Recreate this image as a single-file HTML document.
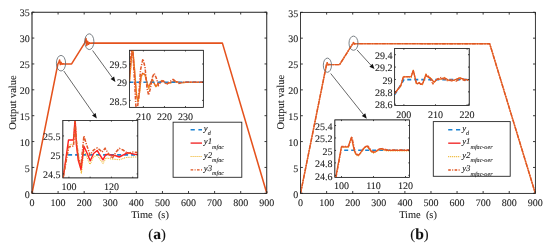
<!DOCTYPE html>
<html><head><meta charset="utf-8"><title>Output value</title>
<style>html,body{margin:0;padding:0;background:#fff;width:550px;height:247px;overflow:hidden}svg{display:block}svg text{stroke:#262626;stroke-width:0.1px;text-rendering:geometricPrecision}</style>
</head><body>
<svg width="550" height="247" viewBox="0 0 550 247" font-family="&apos;Liberation Serif&apos;, &apos;Times New Roman&apos;, serif" fill="#262626">
<rect width="550" height="247" fill="#fff"/>
<defs><clipPath id="k1"><rect x="129.4" y="50.25" width="73.9" height="57.05"/></clipPath></defs>
<rect x="32" y="12.2" width="234.8" height="181.1" fill="#fff" stroke="#262626" stroke-width="0.65"/>
<path d="M32 193.3 L57.9 63.9 L58.8 62.4 L59.6 60 L60.3 64.6 L61 62.3 L62 64.3 L63 63.7 L64 64 L71.6 63.9 L84.6 43.1 L85.4 41 L86 38.5 L86.8 45.4 L87.6 41.3 L88.5 44.2 L89.5 42.7 L90.5 43.3 L92 43 L222.4 43.1 L266.8 193.3" fill="none" stroke="#e5521d" stroke-width="1.55" stroke-linejoin="round"/>
<path d="M32 193.3v-2.3M32 12.2v2.3M58.09 193.3v-2.3M58.09 12.2v2.3M84.18 193.3v-2.3M84.18 12.2v2.3M110.27 193.3v-2.3M110.27 12.2v2.3M136.36 193.3v-2.3M136.36 12.2v2.3M162.44 193.3v-2.3M162.44 12.2v2.3M188.53 193.3v-2.3M188.53 12.2v2.3M214.62 193.3v-2.3M214.62 12.2v2.3M240.71 193.3v-2.3M240.71 12.2v2.3M266.8 193.3v-2.3M266.8 12.2v2.3M32 193.3h2.3M266.8 193.3h-2.3M32 167.43h2.3M266.8 167.43h-2.3M32 141.56h2.3M266.8 141.56h-2.3M32 115.69h2.3M266.8 115.69h-2.3M32 89.81h2.3M266.8 89.81h-2.3M32 63.94h2.3M266.8 63.94h-2.3M32 38.07h2.3M266.8 38.07h-2.3M32 12.2h2.3M266.8 12.2h-2.3" stroke="#262626" stroke-width="0.9" fill="none"/>
<rect x="32" y="12.2" width="234.8" height="181.1" fill="none" stroke="#262626" stroke-width="0.65"/>
<text x="32" y="205.8" text-anchor="middle" font-size="10">0</text>
<text x="58.09" y="205.8" text-anchor="middle" font-size="10">100</text>
<text x="84.18" y="205.8" text-anchor="middle" font-size="10">200</text>
<text x="110.27" y="205.8" text-anchor="middle" font-size="10">300</text>
<text x="136.36" y="205.8" text-anchor="middle" font-size="10">400</text>
<text x="162.44" y="205.8" text-anchor="middle" font-size="10">500</text>
<text x="188.53" y="205.8" text-anchor="middle" font-size="10">600</text>
<text x="214.62" y="205.8" text-anchor="middle" font-size="10">700</text>
<text x="240.71" y="205.8" text-anchor="middle" font-size="10">800</text>
<text x="266.8" y="205.8" text-anchor="middle" font-size="10">900</text>
<text x="29.7" y="197.5" text-anchor="end" font-size="10">0</text>
<text x="29.7" y="171.63" text-anchor="end" font-size="10">5</text>
<text x="29.7" y="145.76" text-anchor="end" font-size="10">10</text>
<text x="29.7" y="119.89" text-anchor="end" font-size="10">15</text>
<text x="29.7" y="94.01" text-anchor="end" font-size="10">20</text>
<text x="29.7" y="68.14" text-anchor="end" font-size="10">25</text>
<text x="29.7" y="42.27" text-anchor="end" font-size="10">30</text>
<text x="29.7" y="16.4" text-anchor="end" font-size="10">35</text>
<ellipse cx="61" cy="63.2" rx="4.6" ry="7.8" fill="none" stroke="#5a6268" stroke-width="0.8"/>
<ellipse cx="89.3" cy="41.7" rx="4.6" ry="7.9" fill="none" stroke="#5a6268" stroke-width="0.8"/>
<path d="M92.6 50.5L112.34 77.69" stroke="#262626" stroke-width="0.7"/><path d="M115.4 81.9L110.56 78.98L114.12 76.4Z" fill="#111"/>
<path d="M63.8 71L93.83 114.13" stroke="#262626" stroke-width="0.7"/><path d="M96.8 118.4L92.02 115.39L95.63 112.88Z" fill="#111"/>
<clipPath id="c1"><rect x="129.4" y="50.25" width="73.9" height="57.05"/></clipPath>
<rect x="129.4" y="50.25" width="73.9" height="57.05" fill="#fff" stroke="#262626" stroke-width="0.65"/>
<g clip-path="url(#c1)">
<path d="M129.4 82 L131.5 56 L132.6 48 L134.5 70 L136.5 95 L138 101.5 L139.5 92 L141 77 L142.6 73.3 L145 74.5 L146.8 82 L148.6 87.9 L150.5 83 L152.3 79.4 L154 83 L155.9 86.6 L158.5 83 L162 80.6 L166 83 L170 82.8 L175 81.5 L181 82.6 L186 82.2 L203.3 82.2" fill="none" stroke="#e8481c" stroke-width="1.45" stroke-linejoin="round"/>
<path d="M129.6 82.3 L131.7 56.3 L132.8 48.3 L134.7 70.3 L136.7 95.3 L138.2 101.8 L139.7 92.3 L141.2 77.3 L142.8 73.6 L145.2 74.8 L147 82.3 L148.8 88.2 L150.7 83.3 L152.5 79.7 L154.2 83.3 L156.1 86.9 L158.7 83.3 L162.2 80.9 L166.2 83.3 L170.2 83.1 L175.2 81.8 L181.2 82.9 L186.2 82.5 L203.5 82.5" fill="none" stroke="#edb120" stroke-width="1.1" stroke-dasharray="0.9 0.9"/>
<path d="M129.4 82.2 L203.3 82.2" fill="none" stroke="#1a82d2" stroke-width="1.6" stroke-dasharray="4 3"/>
<path d="M129.4 74 L131 55 L132.4 45 L134.5 80 L135.8 105 L136.8 112 L138.5 100 L140.5 70 L142.9 59 L145 67 L147 88 L148.6 95.1 L150.5 88 L152.5 77 L154.2 73.3 L156.3 78 L158.4 85.4 L161 82 L163.5 81 L166.5 84.5 L170 81.5 L173 79.5 L176 81.5 L179 83.5 L182 82.5 L185 82.2 L203.3 82.2" fill="none" stroke="#e2582a" stroke-width="1.55" stroke-dasharray="3.5 1.3 1.2 1.3"/>
</g>
<path d="M143.4 107.3v-1.2M143.4 50.25v1.2M164.46 107.3v-1.2M164.46 50.25v1.2M185.51 107.3v-1.2M185.51 50.25v1.2M129.4 100.39h1.2M203.3 100.39h-1.2M129.4 82.2h1.2M203.3 82.2h-1.2M129.4 64h1.2M203.3 64h-1.2" stroke="#262626" stroke-width="0.9" fill="none"/>
<rect x="129.4" y="50.25" width="73.9" height="57.05" fill="none" stroke="#262626" stroke-width="0.65"/>
<text x="143.4" y="119.8" text-anchor="middle" font-size="10">210</text>
<text x="164.46" y="119.8" text-anchor="middle" font-size="10">220</text>
<text x="185.51" y="119.8" text-anchor="middle" font-size="10">230</text>
<text x="127.1" y="104.59" text-anchor="end" font-size="10">28.5</text>
<text x="127.1" y="86.4" text-anchor="end" font-size="10">29</text>
<text x="127.1" y="68.2" text-anchor="end" font-size="10">29.5</text>
<clipPath id="c2"><rect x="62.85" y="120.4" width="74.95" height="57.5"/></clipPath>
<rect x="62.85" y="120.4" width="74.95" height="57.5" fill="#fff" stroke="#262626" stroke-width="0.65"/>
<g clip-path="url(#c2)">
<path d="M68.1 154.9 L137.8 154.9" fill="none" stroke="#1a82d2" stroke-width="1.6" stroke-dasharray="4 3"/>
<path d="M63.2 177.7 L68.7 145 L73.5 143.9 L75.1 125 L77.5 150 L81.4 173.6 L83.9 150 L90 164.4 L93.6 157 L97.2 155 L103 163.3 L106 158 L112 159 L119.3 159.8 L126 157.5 L133.5 157 L138.3 157" fill="none" stroke="#edb120" stroke-width="1.1" stroke-dasharray="0.9 0.9"/>
<path d="M63.2 177.7 L68.5 140 L73.5 140 L75.1 119 L76.4 145 L78.2 160 L81 169.5 L83.9 146.2 L87 153 L90.2 160.8 L93.6 153.5 L97.2 150.5 L99.4 154.1 L103 159.8 L105.8 154.4 L115 155.5 L119.3 157 L127.8 152.7 L134.9 154.4 L138.3 154.5" fill="none" stroke="#ff2020" stroke-width="1.45" stroke-linejoin="round"/>
<path d="M63.2 177 L68.8 147 L73.5 146 L75.1 121 L76.3 140 L78.5 158 L81 166 L83.9 136 L86 143 L90 155 L93.6 150 L97.2 148 L100 150 L102 152 L105.1 148.4 L108 153 L112.2 158.4 L116 152 L119.3 148.4 L123 150 L127.8 153.4 L133 152 L138.3 152.5" fill="none" stroke="#e2582a" stroke-width="1.55" stroke-dasharray="3.5 1.3 1.2 1.3"/>
</g>
<path d="M68.91 177.9v-1.2M68.91 120.4v1.2M90.17 177.9v-1.2M90.17 120.4v1.2M111.43 177.9v-1.2M111.43 120.4v1.2M132.7 177.9v-1.2M132.7 120.4v1.2M62.85 173.91h1.2M137.8 173.91h-1.2M62.85 154.92h1.2M137.8 154.92h-1.2M62.85 135.93h1.2M137.8 135.93h-1.2" stroke="#262626" stroke-width="0.9" fill="none"/>
<rect x="62.85" y="120.4" width="74.95" height="57.5" fill="none" stroke="#262626" stroke-width="0.65"/>
<text x="68.91" y="189.9" text-anchor="middle" font-size="10">100</text>
<text x="111.43" y="189.9" text-anchor="middle" font-size="10">120</text>
<text x="60.55" y="178.11" text-anchor="end" font-size="10">24.5</text>
<text x="60.55" y="159.12" text-anchor="end" font-size="10">25</text>
<text x="60.55" y="140.13" text-anchor="end" font-size="10">25.5</text>
<rect x="173.1" y="122.2" width="68.7" height="55.1" fill="#fff" stroke="#262626" stroke-width="0.9"/>
<path d="M190.6 129.7 L202 129.7" fill="none" stroke="#1a82d2" stroke-width="1.5" stroke-dasharray="4.2 3.6"/>
<text x="203.8" y="130.7" font-size="8.8" font-style="italic">y<tspan font-size="6.1" dy="4.5">d</tspan></text>
<path d="M190.6 143.1 L202 143.1" fill="none" stroke="#f23a3a" stroke-width="1.5"/>
<text x="203.8" y="144.1" font-size="8.8" font-style="italic">y1<tspan font-size="6.1" dy="4.5">mfac</tspan></text>
<path d="M190.6 156.5 L202 156.5" fill="none" stroke="#edb120" stroke-width="1.1" stroke-dasharray="1 1"/>
<text x="203.8" y="157.5" font-size="8.8" font-style="italic">y2<tspan font-size="6.1" dy="4.5">mfac</tspan></text>
<path d="M190.6 169.9 L202 169.9" fill="none" stroke="#e0521e" stroke-width="1.4" stroke-dasharray="2.6 1.4 1 1.4"/>
<text x="203.8" y="170.9" font-size="8.8" font-style="italic">y3<tspan font-size="6.1" dy="4.5">mfac</tspan></text>
<text transform="translate(16.4 102.6) rotate(-90)" text-anchor="middle" font-size="10.5">Output value</text>
<text x="150" y="217.6" text-anchor="middle" font-size="10.4" xml:space="preserve">Time  (s)</text>
<text x="157" y="238.5" text-anchor="middle" font-size="14.6" fill="#111">(<tspan font-weight="bold" font-size="15.5">a</tspan>)</text>
<rect x="300.55" y="12.3" width="234.75" height="181" fill="#fff" stroke="#262626" stroke-width="0.65"/>
<path d="M300.55 193.3 L326.5 64.6 L327.2 62.8 L328 64.9 L329 64.4 L330 64.6 L339.6 64.6 L352.8 43.7 L353.5 42.6 L354.3 44.1 L355.5 43.6 L489.7 43.7 L535.3 193.3" fill="none" stroke="#ea7a48" stroke-width="1.4" stroke-linejoin="round"/>
<path d="M300.55 193.3 L326.5 64.6 L327.2 62.8 L328 64.9 L329 64.4 L330 64.6 L339.6 64.6 L352.8 43.7 L353.5 42.6 L354.3 44.1 L355.5 43.6 L489.7 43.7 L535.3 193.3" fill="none" stroke="#e0561f" stroke-width="1.45" stroke-linejoin="round" stroke-dasharray="4 1 1.5 1"/>
<path d="M300.55 193.3v-2.3M300.55 12.3v2.3M326.63 193.3v-2.3M326.63 12.3v2.3M352.72 193.3v-2.3M352.72 12.3v2.3M378.8 193.3v-2.3M378.8 12.3v2.3M404.88 193.3v-2.3M404.88 12.3v2.3M430.97 193.3v-2.3M430.97 12.3v2.3M457.05 193.3v-2.3M457.05 12.3v2.3M483.13 193.3v-2.3M483.13 12.3v2.3M509.22 193.3v-2.3M509.22 12.3v2.3M535.3 193.3v-2.3M535.3 12.3v2.3M300.55 193.3h2.3M535.3 193.3h-2.3M300.55 167.44h2.3M535.3 167.44h-2.3M300.55 141.59h2.3M535.3 141.59h-2.3M300.55 115.73h2.3M535.3 115.73h-2.3M300.55 89.87h2.3M535.3 89.87h-2.3M300.55 64.01h2.3M535.3 64.01h-2.3M300.55 38.16h2.3M535.3 38.16h-2.3M300.55 12.3h2.3M535.3 12.3h-2.3" stroke="#262626" stroke-width="0.9" fill="none"/>
<rect x="300.55" y="12.3" width="234.75" height="181" fill="none" stroke="#262626" stroke-width="0.65"/>
<text x="300.55" y="205.8" text-anchor="middle" font-size="10">0</text>
<text x="326.63" y="205.8" text-anchor="middle" font-size="10">100</text>
<text x="352.72" y="205.8" text-anchor="middle" font-size="10">200</text>
<text x="378.8" y="205.8" text-anchor="middle" font-size="10">300</text>
<text x="404.88" y="205.8" text-anchor="middle" font-size="10">400</text>
<text x="430.97" y="205.8" text-anchor="middle" font-size="10">500</text>
<text x="457.05" y="205.8" text-anchor="middle" font-size="10">600</text>
<text x="483.13" y="205.8" text-anchor="middle" font-size="10">700</text>
<text x="509.22" y="205.8" text-anchor="middle" font-size="10">800</text>
<text x="535.3" y="205.8" text-anchor="middle" font-size="10">900</text>
<text x="298.25" y="197.5" text-anchor="end" font-size="10">0</text>
<text x="298.25" y="171.64" text-anchor="end" font-size="10">5</text>
<text x="298.25" y="145.79" text-anchor="end" font-size="10">10</text>
<text x="298.25" y="119.93" text-anchor="end" font-size="10">15</text>
<text x="298.25" y="94.07" text-anchor="end" font-size="10">20</text>
<text x="298.25" y="68.21" text-anchor="end" font-size="10">25</text>
<text x="298.25" y="42.36" text-anchor="end" font-size="10">30</text>
<text x="298.25" y="16.5" text-anchor="end" font-size="10">35</text>
<ellipse cx="327.4" cy="65.2" rx="4.1" ry="7.1" fill="none" stroke="#5a6268" stroke-width="0.8"/>
<ellipse cx="353.5" cy="43.2" rx="4.5" ry="7.1" fill="none" stroke="#5a6268" stroke-width="0.8"/>
<path d="M357 49.9L371 65.26" stroke="#262626" stroke-width="0.7"/><path d="M374.5 69.1L369.37 66.74L372.62 63.77Z" fill="#111"/>
<path d="M330.7 73.5L363.56 114.73" stroke="#262626" stroke-width="0.7"/><path d="M366.8 118.8L361.84 116.1L365.28 113.36Z" fill="#111"/>
<clipPath id="c3"><rect x="394.7" y="48.5" width="74.5" height="57"/></clipPath>
<rect x="394.7" y="48.5" width="74.5" height="57" fill="#fff" stroke="#262626" stroke-width="0.65"/>
<g clip-path="url(#c3)">
<path d="M394.7 94.7 L404 79.6 L469.2 79.6" fill="none" stroke="#1a82d2" stroke-width="1.6" stroke-dasharray="4 3"/>
<path d="M394.7 93 L400.8 86.3 L403.4 76.3 L411.2 77.4 L413.3 69.8 L416.3 83.7 L417.7 83.4 L419.2 83.2 L420.6 83.9 L422.6 84.7 L426 73.7 L427.4 77.4 L430.2 77.5 L434 82.8 L437.5 78.8 L441 79.6 L444.5 77.4 L448 80.6 L451.8 80.5 L455.5 80.3 L459.7 77.4 L464 80 L469.2 79.5" fill="none" stroke="#edb120" stroke-width="1.1" stroke-dasharray="0.9 0.9"/>
<path d="M394.7 93.5 L400.8 85.5 L403.4 76.8 L411.2 76.6 L413.3 70.3 L416.3 82.9 L417.7 83.9 L419.2 82.4 L420.6 84.4 L422.6 83.9 L426 74.2 L427.4 76.6 L430.2 78 L434 82 L437.5 79.3 L441 78.8 L444.5 77.9 L448 79.8 L451.8 81 L455.5 79.5 L459.7 77.9 L464 79.2 L469.2 80" fill="none" stroke="#e4531c" stroke-width="1.25" stroke-linejoin="round"/>
<path d="M394.7 93.5 L400.8 85.5 L403.4 76.8 L411.2 76.6 L413.3 70.3 L416.3 82.9 L417.7 83.9 L419.2 82.4 L420.6 84.4 L422.6 83.9 L425.5 76.5 L428 75.5 L433 84 L437 79 L441 77.5 L444.5 79.5 L448 81 L452 79.5 L456 81.2 L460 79 L465 80.5 L469.2 80" fill="none" stroke="#e2582a" stroke-width="1.25" stroke-dasharray="3.5 1.3 1.2 1.3"/>
</g>
<path d="M403.87 105.5v-1.2M403.87 48.5v1.2M435.49 105.5v-1.2M435.49 48.5v1.2M467.11 105.5v-1.2M467.11 48.5v1.2M394.7 104.26h1.2M469.2 104.26h-1.2M394.7 91.87h1.2M469.2 91.87h-1.2M394.7 79.48h1.2M469.2 79.48h-1.2M394.7 67.09h1.2M469.2 67.09h-1.2M394.7 54.7h1.2M469.2 54.7h-1.2" stroke="#262626" stroke-width="0.9" fill="none"/>
<rect x="394.7" y="48.5" width="74.5" height="57" fill="none" stroke="#262626" stroke-width="0.65"/>
<text x="403.87" y="118" text-anchor="middle" font-size="10">200</text>
<text x="435.49" y="118" text-anchor="middle" font-size="10">210</text>
<text x="467.11" y="118" text-anchor="middle" font-size="10">220</text>
<text x="392.4" y="108.46" text-anchor="end" font-size="10">28.6</text>
<text x="392.4" y="96.07" text-anchor="end" font-size="10">28.8</text>
<text x="392.4" y="83.68" text-anchor="end" font-size="10">29</text>
<text x="392.4" y="71.29" text-anchor="end" font-size="10">29.2</text>
<text x="392.4" y="58.9" text-anchor="end" font-size="10">29.4</text>
<clipPath id="c4"><rect x="334.85" y="119.9" width="74.65" height="57.4"/></clipPath>
<rect x="334.85" y="119.9" width="74.65" height="57.4" fill="#fff" stroke="#262626" stroke-width="0.65"/>
<g clip-path="url(#c4)">
<path d="M344.2 150.2 L409.5 150.2" fill="none" stroke="#1a82d2" stroke-width="1.6" stroke-dasharray="4 3"/>
<path d="M335.7 178 L341.4 147.5 L348.2 147.5 L351.4 137.8 L352.8 144.2 L354.1 150.7 L355.5 154 L357 155.7 L358.5 155.9 L360 154.2 L362 151.2 L364 148.7 L366 147 L367.5 147.2 L369.5 149.7 L371.5 152.2 L373.5 153.1 L376 152.2 L378.5 150.2 L381.5 149.3 L384 150.3 L387 151 L409.7 151" fill="none" stroke="#edb120" stroke-width="1.1" stroke-dasharray="0.9 0.9"/>
<path d="M335.7 177.3 L341.4 146.8 L348.2 146.8 L351.4 137.1 L352.8 143.5 L354.1 150 L355.5 153.3 L357 155 L358.5 155.2 L360 153.5 L362 150.5 L364 148 L366 146.3 L367.5 146.5 L369.5 149 L371.5 151.5 L373.5 152.4 L376 151.5 L378.5 149.5 L381.5 148.6 L384 149.6 L387 150.3 L409.7 150.3" fill="none" stroke="#e4531c" stroke-width="1.25" stroke-linejoin="round"/>
<path d="M336.2 176.9 L341.9 146.4 L348.7 146.4 L351.9 136.7 L353.3 143.1 L354.6 149.6 L356 152.9 L357.5 154.6 L359 154.8 L360.5 153.1 L362.5 150.1 L364.5 147.6 L366.5 145.9 L368 146.1 L370 148.6 L372 151.1 L374 152 L376.5 151.1 L379 149.1 L382 148.2 L384.5 149.2 L387.5 149.9 L410.2 149.9" fill="none" stroke="#e2582a" stroke-width="1.25" stroke-dasharray="3.5 1.3 1.2 1.3"/>
</g>
<path d="M341.51 177.3v-1.2M341.51 119.9v1.2M373.5 177.3v-1.2M373.5 119.9v1.2M405.5 177.3v-1.2M405.5 119.9v1.2M334.85 175.31h1.2M409.5 175.31h-1.2M334.85 162.86h1.2M409.5 162.86h-1.2M334.85 150.41h1.2M409.5 150.41h-1.2M334.85 137.95h1.2M409.5 137.95h-1.2M334.85 125.5h1.2M409.5 125.5h-1.2" stroke="#262626" stroke-width="0.9" fill="none"/>
<rect x="334.85" y="119.9" width="74.65" height="57.4" fill="none" stroke="#262626" stroke-width="0.65"/>
<text x="341.51" y="189.3" text-anchor="middle" font-size="10">100</text>
<text x="373.5" y="189.3" text-anchor="middle" font-size="10">110</text>
<text x="405.5" y="189.3" text-anchor="middle" font-size="10">120</text>
<text x="332.55" y="179.51" text-anchor="end" font-size="10">24.6</text>
<text x="332.55" y="167.06" text-anchor="end" font-size="10">24.8</text>
<text x="332.55" y="154.61" text-anchor="end" font-size="10">25</text>
<text x="332.55" y="142.15" text-anchor="end" font-size="10">25.2</text>
<text x="332.55" y="129.7" text-anchor="end" font-size="10">25.4</text>
<rect x="433.3" y="121.6" width="76.9" height="54.7" fill="#fff" stroke="#262626" stroke-width="0.9"/>
<path d="M448.2 129.8 L460.5 129.8" fill="none" stroke="#1a82d2" stroke-width="1.5" stroke-dasharray="4.2 3.6"/>
<text x="462.2" y="130.8" font-size="8.8" font-style="italic">y<tspan font-size="6.1" dy="4.5">d</tspan></text>
<path d="M448.2 143.2 L460.5 143.2" fill="none" stroke="#f23a3a" stroke-width="1.5"/>
<text x="462.2" y="144.2" font-size="8.8" font-style="italic">y1<tspan font-size="6.1" dy="4.5">mfac-oer</tspan></text>
<path d="M448.2 156.6 L460.5 156.6" fill="none" stroke="#edb120" stroke-width="1.1" stroke-dasharray="1 1"/>
<text x="462.2" y="157.6" font-size="8.8" font-style="italic">y2<tspan font-size="6.1" dy="4.5">mfac-oer</tspan></text>
<path d="M448.2 170 L460.5 170" fill="none" stroke="#e0521e" stroke-width="1.4" stroke-dasharray="2.6 1.4 1 1.4"/>
<text x="462.2" y="171" font-size="8.8" font-style="italic">y3<tspan font-size="6.1" dy="4.5">mfac-oer</tspan></text>
<text transform="translate(283.9 102.2) rotate(-90)" text-anchor="middle" font-size="10.5">Output value</text>
<text x="418" y="217.6" text-anchor="middle" font-size="10.4" xml:space="preserve">Time  (s)</text>
<text x="419.5" y="238.5" text-anchor="middle" font-size="14.6" fill="#111">(<tspan font-weight="bold" font-size="15.5">b</tspan>)</text>
</svg>
</body></html>
